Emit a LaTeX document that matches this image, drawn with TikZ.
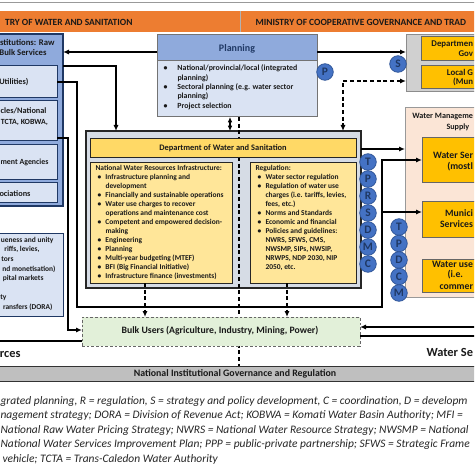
\documentclass[tikz,border=0pt]{standalone}
\usepackage{fontspec}
\setmainfont{Carlito}
\usetikzlibrary{fit,arrows.meta}

\definecolor{orangebar}{RGB}{237,125,49}
\definecolor{bluemid}{RGB}{143,170,220}
\definecolor{bluelight}{RGB}{218,227,243}
\definecolor{navyline}{RGB}{31,56,100}
\definecolor{circfill}{RGB}{68,114,196}
\definecolor{circline}{RGB}{47,85,151}
\definecolor{dwsgray}{RGB}{214,220,229}
\definecolor{yellowlight}{RGB}{255,230,153}
\definecolor{yellowhead}{RGB}{255,217,102}
\definecolor{gold}{RGB}{255,192,0}
\definecolor{peach}{RGB}{251,229,214}
\definecolor{cogray}{RGB}{208,208,208}
\definecolor{greenbulk}{RGB}{226,240,217}
\definecolor{natgray}{RGB}{191,191,191}

\tikzset{every picture/.style={line width=0.75pt}}
\tikzset{
  blk/.style={inner sep=0pt, outer sep=0pt, draw=black!85},
  txt/.style={inner sep=0pt, text=black!90, font=\fontsize{5.6}{6.7}\selectfont\bfseries},
  ltr/.style={circle, inner sep=0pt, minimum size=12.4pt, fill=circfill, draw=circline, line width=0.6pt, text=navyline, font=\fontsize{8.6}{8.6}\selectfont\bfseries},
  arr/.style={-{Latex[length=4.5pt,width=3.8pt]}, line width=0.9pt},
  dsh/.style={dash pattern=on 3pt off 2pt, line width=0.9pt},
  legend/.style={inner sep=0pt, anchor=west, text=black!85, font=\fontsize{8.6}{10}\selectfont\itshape},
}

\begin{document}
\begin{tikzpicture}[x=0.75pt,y=0.75pt,yscale=-1,xscale=1]
\useasboundingbox (0,0) rectangle (474,474);
\clip (0,0) rectangle (474,474);
\fill[white] (0,0) rectangle (474,474);

%Straight Lines: frame
\draw[black!40] (-5,3) -- (480,3);

%Shape: Rectangle: ministries
\node[blk, draw=none, fill=orangebar, fit={(-5,11) (240,32)}] (mws) {};
\node[blk, draw=none, fill=orangebar, fit={(240,11) (480,32)}] (mcg) {};
\draw[white!70!black, line width=0.5pt] (mws.north east) -- (mws.south east);

%Shape: Rectangle: left column
\node[blk, fill=bluemid, draw=navyline, line width=1.1pt, fit={(-5,34) (63,206)}] (instcol) {};
\node[blk, fill=bluelight, draw=navyline, fit={(-5,66) (57,98)}] (utilbox) {};
\node[blk, fill=bluelight, draw=navyline, fit={(-5,101) (57,141)}] (spvbox) {};
\node[blk, fill=bluelight, draw=navyline, fit={(-5,145) (57,179)}] (cmabox) {};
\node[blk, fill=bluelight, draw=navyline, fit={(-5,182) (57,202)}] (wuabox) {};
\node[blk, fill=bluelight, draw=navyline, fit={(-5,233) (63,316)}] (finbox) {};

%Shape: Rectangle: planning
\node[blk, fill=bluelight, draw=black!55, fit={(157,61) (317,117)}] (planbody) {};
\node[blk, fill=bluemid, draw=black!55, fit={(157,35) (317,61)}] (planhead) {};

%Shape: Rectangle: cooperative governance
\node[blk, fill=cogray, draw=black!45, fit={(406,35) (480,92)}] (cogbox) {};
\node[blk, fill=gold, draw=black!60, fit={(421,37) (480,61)}] (dcogbox) {};
\node[blk, fill=gold, draw=black!60, fit={(421,66) (480,89)}] (lgbox) {};

%Shape: Rectangle: water management
\node[blk, fill=peach, draw=black!40, fit={(405,108) (480,297)}] (wmibox) {};
\node[blk, fill=gold, draw=black!60, fit={(422,138) (480,182)}] (wsabox) {};
\node[blk, fill=gold, draw=black!60, fit={(422,201) (480,237)}] (munbox) {};
\node[blk, fill=gold, draw=black!60, fit={(422,259) (480,292)}] (wubox) {};

%Shape: Rectangle: national bar
\node[blk, fill=natgray, draw=black!80, fit={(-5,366) (480,381)}] (natbar) {};

%Shape: Rectangle: department of water and sanitation
\node[blk, fill=dwsgray, line width=1pt, fit={(86,131) (361,288)}] (dws) {};
\draw[dsh] (planbody.south -| 239,0) -- (natbar.north -| 239,0);
\node[blk, fill=yellowhead, fit={(90,139) (356,157)}] (dwshead) {};
\node[blk, fill=yellowlight, fit={(90,162) (232,283)}] (nwri) {};
\node[blk, fill=yellowlight, fit={(250,162) (356,283)}] (regbox) {};

%Shape: Rectangle: bulk users
\node[blk, fill=greenbulk, draw=black!60, dash pattern=on 2pt off 1.5pt, fit={(82,317) (360,346)}] (bulk) {};

%Straight Lines
\draw[arr] (planhead.west |- 0,52) -- (instcol.east |- 0,52);
\draw[arr] (planhead.east |- 0,52) -- (cogbox.west |- 0,52);
\draw[arr] (instcol.east |- 0,66) -| (dws.north -| 116,0);
\draw[{Latex[length=4pt,width=3.5pt]}-{Latex[length=4pt,width=3.5pt]}, line width=0.9pt] (planbody.south -| 230,0) -- (dws.north -| 230,0);
\draw[dsh, {Latex[length=4.5pt,width=3.8pt]}-{Latex[length=4.5pt,width=3.8pt]}] (cogbox.west |- 0,81) -| (dws.north -| 343,0);
\draw[arr] (dws.east |- 0,149) -- (wmibox.west |- 0,149);
\draw[arr] (utilbox.east) -| (77,307) -| (382,160) -- (wsabox.west |- 0,160);
\draw[arr] (382,212) -- (munbox.west |- 0,212);
\draw[arr] (spvbox.east |- 0,138) -| (68,330) -- (bulk.west |- 0,330);
\draw[arr, dsh] (nwri.south -| 145,0) -- (bulk.north -| 145,0);
\draw[arr, dsh] (regbox.south -| 287,0) -- (bulk.north -| 287,0);
\draw[arr] (480,327) -- (bulk.east |- 0,327);
\draw[line width=0.9pt] (bulk.east |- 0,336) -- (480,336);
\draw[line width=0.9pt] (-5,341) -- (bulk.west |- 0,341);

% Text Node: ministries
\node[txt, anchor=east, font=\fontsize{7.1}{8}\selectfont\bfseries] (tmws) at (133,22) {TRY OF WATER AND SANITATION};
\node[txt, anchor=west, font=\fontsize{7.1}{8}\selectfont\bfseries] (tmcg) at (255,22) {MINISTRY OF COOPERATIVE GOVERNANCE AND TRAD};

% Text Node: left column
\node[txt, anchor=east, font=\fontsize{6.5}{8}\selectfont\bfseries] (tinst1) at (55,42) {stitutions: Raw};
\node[txt, anchor=east, font=\fontsize{6.5}{8}\selectfont\bfseries] (tinst2) at (47,52) {Bulk Services};
\node[txt, anchor=east, font=\fontsize{6.2}{8}\selectfont\bfseries] (tutil) at (29,82) {Utilities)};
\node[txt, anchor=east, font=\fontsize{6.2}{8}\selectfont\bfseries] (tspv1) at (47,111) {cles/National};
\node[txt, anchor=east, font=\fontsize{5.9}{8}\selectfont\bfseries] (tspv2) at (48.5,122) {TCTA, KOBWA,};
\node[txt, anchor=east, font=\fontsize{5.9}{8}\selectfont\bfseries] (tcma) at (49,162) {ment Agencies};
\node[txt, anchor=east, font=\fontsize{6.2}{8}\selectfont\bfseries] (twua) at (31,194) {ociations};
\node[txt, anchor=east] (tfin1) at (54,240) {ueness and unity};
\node[txt, anchor=east] (tfin2) at (40,249.6) {riffs, levies,};
\node[txt, anchor=east] (tfin3) at (14,259.2) {tors};
\node[txt, anchor=east] (tfin4) at (56,268.8) {nd monetisation)};
\node[txt, anchor=east] (tfin5) at (44,278.4) {pital markets};
\node[txt, anchor=east] (tfin6) at (7,297.6) {ty};
\node[txt, anchor=east] (tfin7) at (53,307.2) {ransfers (DORA)};

% Text Node: planning
\node[txt, text=navyline, font=\fontsize{7.5}{9}\selectfont\bfseries] (tplan) at (237,49) {Planning};
\node[txt, anchor=base west, font=\fontsize{5.9}{6.94}\selectfont\bfseries] (tplanlist) at (163,71) {\begin{tabular}[t]{@{}p{10.5pt}@{}l@{}}
\textbullet & National/provincial/local (integrated\\
 & planning)\\
\textbullet & Sectoral planning (e.g. water sector\\
 & planning)\\
\textbullet & Project selection
\end{tabular}};

% Text Node: department of water and sanitation
\node[txt, font=\fontsize{6.3}{8}\selectfont\bfseries] (tdws) at (223,148) {Department of Water and Sanitation};
\node[txt, anchor=base west, font=\fontsize{5.6}{6.69}\selectfont\bfseries] (tnwri) at (95,171) {\begin{tabular}[t]{@{\hspace{1.5pt}}p{6pt}@{}l@{}}
\multicolumn{2}{@{}l@{}}{National Water Resources Infrastructure:}\\
\textbullet & Infrastructure planning and\\
 & development\\
\textbullet & Financially and sustainable operations\\
\textbullet & Water use charges to recover\\
 & operations and maintenance cost\\
\textbullet & Competent and empowered decision-\\
 & making\\
\textbullet & Engineering\\
\textbullet & Planning\\
\textbullet & Multi-year budgeting (MTEF)\\
\textbullet & BFI (Big Financial Initiative)\\
\textbullet & Infrastructure finance (investments)
\end{tabular}};
\node[txt, anchor=base west, font=\fontsize{5.6}{6.69}\selectfont\bfseries] (treg) at (255,171) {\begin{tabular}[t]{@{\hspace{1.5pt}}p{6pt}@{}l@{}}
\multicolumn{2}{@{}l@{}}{Regulation:}\\
\textbullet & Water sector regulation\\
\textbullet & Regulation of water use\\
 & charges (i.e. tariffs, levies,\\
 & fees, etc.)\\
\textbullet & Norms and Standards\\
\textbullet & Economic and financial\\
\textbullet & Policies and guidelines:\\
 & NWRS, SFWS, CMS,\\
 & NWSMP, SIPs, NWSIP,\\
 & NRWPS, NDP 2030, NIP\\
 & 2050, etc.
\end{tabular}};

% Text Node: right side
\node[txt, anchor=east, font=\fontsize{6.6}{8}\selectfont\bfseries] (tdcog1) at (473.5,44) {Departmen};
\node[txt, anchor=east, font=\fontsize{6.6}{8}\selectfont\bfseries] (tdcog2) at (473.5,54) {Gov};
\node[txt, anchor=east, font=\fontsize{6.6}{8}\selectfont\bfseries] (tlg1) at (473.5,72) {Local G};
\node[txt, anchor=east, font=\fontsize{6.6}{8}\selectfont\bfseries] (tlg2) at (473.5,82) {(Mun};
\node[txt, anchor=east, font=\fontsize{6.1}{8}\selectfont\bfseries] (twmi1) at (473.5,117) {Water Manageme};
\node[txt, anchor=west, font=\fontsize{6.1}{8}\selectfont\bfseries] (twmi2) at (446,127) {Supply};
\node[txt, anchor=east, font=\fontsize{7.3}{9}\selectfont\bfseries] (twsa1) at (473.5,155) {Water Ser};
\node[txt, anchor=east, font=\fontsize{7.3}{9}\selectfont\bfseries] (twsa2) at (473.5,167) {(mostl};
\node[txt, anchor=east, font=\fontsize{7.3}{9}\selectfont\bfseries] (tmun1) at (473.5,213) {Munici};
\node[txt, anchor=east, font=\fontsize{7.3}{9}\selectfont\bfseries] (tmun2) at (473.5,224) {Services};
\node[txt, anchor=east, font=\fontsize{7.3}{9}\selectfont\bfseries] (twu1) at (473.5,264) {Water use};
\node[txt, anchor=west, font=\fontsize{7.3}{9}\selectfont\bfseries] (twu2) at (447,275) {(i.e.};
\node[txt, anchor=east, font=\fontsize{7.3}{9}\selectfont\bfseries] (twu3) at (473.5,287) {commer};

% Text Node: bulk users and national bar
\node[txt, font=\fontsize{7.3}{9}\selectfont\bfseries] (tbulk) at (220,331) {Bulk Users (Agriculture, Industry, Mining, Power)};
\node[txt, font=\fontsize{7.4}{9}\selectfont\bfseries] (tnat) at (235,374) {National Institutional Governance and Regulation};
\node[txt, anchor=east, font=\fontsize{9.3}{11}\selectfont\bfseries] (twr) at (21,354) {rces};
\node[txt, anchor=east, font=\fontsize{9.3}{11}\selectfont\bfseries] (tws) at (473.5,352) {Water Se};

% Text Node: letters
\node[ltr] (cP) at (325,72) {P};
\node[ltr] (cS) at (398,64) {S};
\node[ltr] (rT) at (368,162) {T};
\node[ltr] (rP) at (368,179) {P};
\node[ltr] (rR) at (368,196) {R};
\node[ltr] (rS) at (368,213) {S};
\node[ltr] (rD) at (368,230) {D};
\node[ltr] (rM) at (368,247) {M};
\node[ltr] (rC) at (368,264) {C};
\node[ltr] (sT) at (399,227) {T};
\node[ltr] (sP) at (399,243.5) {P};
\node[ltr] (sD) at (399,260) {D};
\node[ltr] (sC) at (399,276.5) {C};
\node[ltr] (sM) at (399,293) {M};

% Text Node: legend
\node[legend] (leg1) at (0,401) {grated planning, R = regulation, S = strategy and policy development, C = coordination, D = developm};
\node[legend] (leg2) at (0,415.5) {nagement strategy; DORA = Division of Revenue Act; KOBWA = Komati Water Basin Authority; MFI =};
\node[legend] (leg3) at (0,430) {National Raw Water Pricing Strategy; NWRS = National Water Resource Strategy; NWSMP = National};
\node[legend] (leg4) at (0,444.5) {National Water Services Improvement Plan; PPP = public-private partnership; SFWS = Strategic Frame};
\node[legend] (leg5) at (2,459) {vehicle; TCTA = Trans-Caledon Water Authority};

\end{tikzpicture}
\end{document}
